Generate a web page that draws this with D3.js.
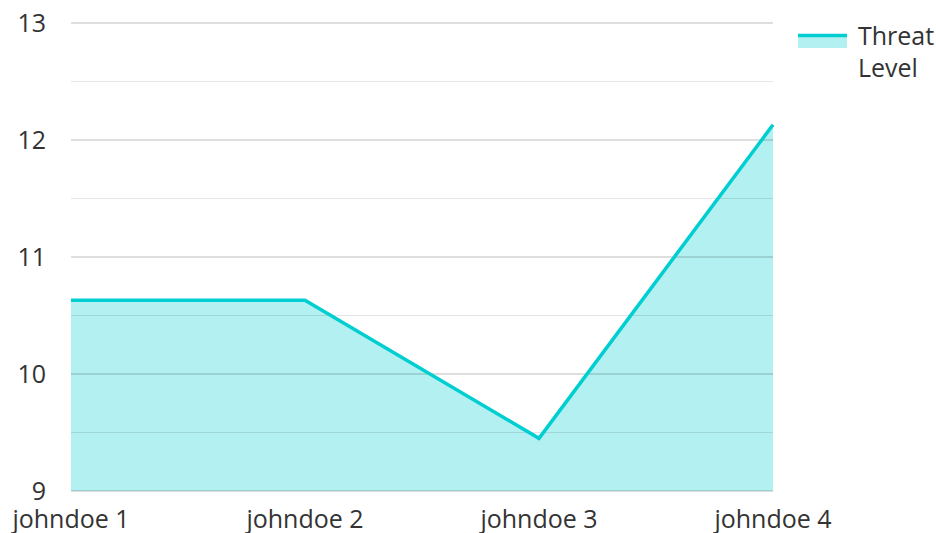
<!DOCTYPE html>
<html lang="en">
<head>
<meta charset="utf-8">
<script src="https://d3js.org/d3.v7.min.js"></script>
<style>
  body { margin: 0; background: #fff; }
  text { font-family: "Open Sans", sans-serif; fill: #333; }
</style>
</head>
<body>
<svg id="main" width="936" height="533"></svg>
<script>
const categories = ['johndoe 1', 'johndoe 2', 'johndoe 3', 'johndoe 4'];
const threatLevel = [10.63, 10.63, 9.45, 12.13];
const yTicks = [9, 10, 11, 12, 13];
const seriesName = ['Threat', 'Level'];

const lineColor = '#00ced1';
const svg = d3.select('svg#main');
const plotLeft = 71, plotRight = 773, plotTop = 23, plotBottom = 491;
const fontSize = 25;

const x = d3.scalePoint().domain(categories).range([plotLeft, plotRight]).padding(0);
const y = d3.scaleLinear().domain([9, 13]).range([plotBottom, plotTop]);

const data = categories.map((c, i) => ({ c: c, v: threatLevel[i] }));

// fill under the line
const area = d3.area().x(d => x(d.c)).y0(y(9)).y1(d => y(d.v));
svg.append('path').datum(data)
  .attr('d', area)
  .attr('fill', lineColor).attr('fill-opacity', 0.3);

// grid lines (minor at half steps, then major)
const minor = d3.range(9.5, 13, 1);
svg.selectAll('.minor').data(minor).enter().append('line')
  .attr('x1', plotLeft).attr('x2', plotRight)
  .attr('y1', d => y(d)).attr('y2', d => y(d))
  .attr('stroke', '#000').attr('stroke-opacity', 0.1).attr('stroke-width', 1);

svg.selectAll('.major').data(yTicks).enter().append('line')
  .attr('x1', plotLeft).attr('x2', plotRight)
  .attr('y1', d => y(d)).attr('y2', d => y(d))
  .attr('stroke', '#000').attr('stroke-opacity', 0.26).attr('stroke-width', 1);

// the line itself
const line = d3.line().x(d => x(d.c)).y(d => y(d.v));
svg.append('path').datum(data)
  .attr('d', line)
  .attr('fill', 'none')
  .attr('stroke', lineColor)
  .attr('stroke-width', 3.5);

// y labels
svg.selectAll('.ylab').data(yTicks).enter().append('text')
  .attr('x', 46).attr('y', d => y(d))
  .attr('dy', '0.35em')
  .attr('text-anchor', 'end')
  .attr('font-size', fontSize)
  .text(d => d);

// x labels
svg.selectAll('.xlab').data(categories).enter().append('text')
  .attr('x', d => x(d)).attr('y', 519)
  .attr('dy', '0.35em')
  .attr('text-anchor', 'middle')
  .attr('font-size', fontSize)
  .text(d => d);

// legend
const lg = svg.append('g').attr('transform', 'translate(798,34)');
lg.append('rect').attr('x', 0).attr('y', 0).attr('width', 49).attr('height', 14)
  .attr('fill', lineColor).attr('fill-opacity', 0.3);
lg.append('line').attr('x1', 0).attr('x2', 49).attr('y1', 1.5).attr('y2', 1.5)
  .attr('stroke', lineColor).attr('stroke-width', 3.5);
lg.selectAll('.lt').data(seriesName).enter().append('text')
  .attr('x', 60).attr('y', (d, i) => 2 + i * 32)
  .attr('dy', '0.35em')
  .attr('font-size', fontSize)
  .text(d => d);
</script>
</body>
</html>
